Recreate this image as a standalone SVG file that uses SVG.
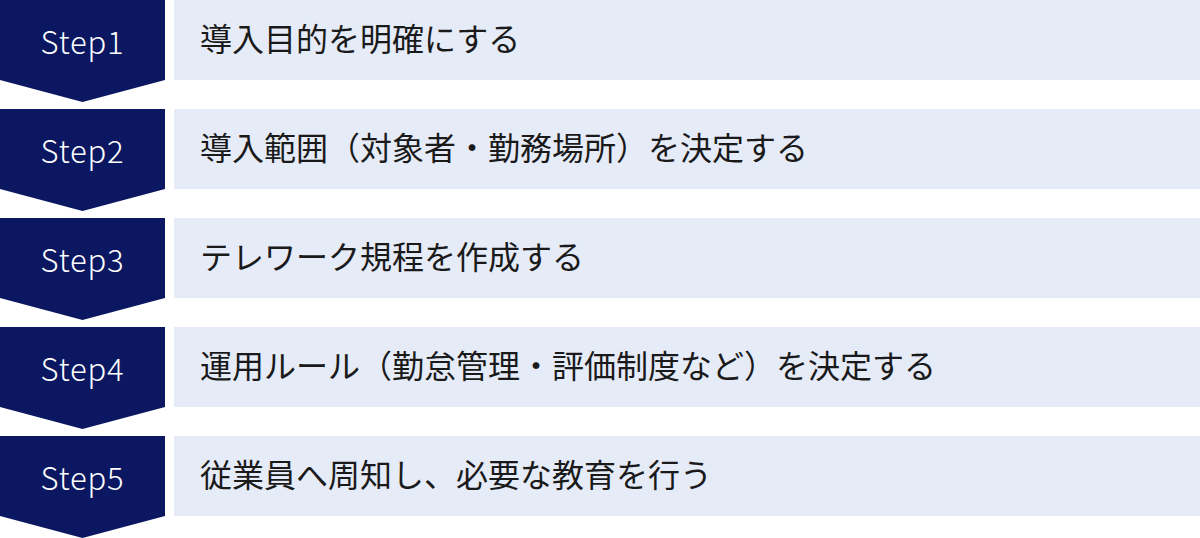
<svg xmlns="http://www.w3.org/2000/svg" width="1200" height="538" viewBox="0 0 1200 538">
<defs>
<style>
.chev{fill:#0b1861}
.box{fill:#e6ebf8}
.step{fill:#ffffff;font-family:"Noto Sans CJK JP","Noto Sans",sans-serif;font-size:31px;font-weight:300;letter-spacing:0.8px;text-anchor:middle}
.lbl{fill:#1a1a1a;font-family:"Noto Sans CJK JP","Noto Sans",sans-serif;font-size:32px}
</style>
<polygon id="chevShape" points="0,0 165,0 165,80 82.5,102 0,80"/>
</defs>
<rect width="1200" height="538" fill="#ffffff"/>
<g id="connectors"></g>
<g id="step1" transform="translate(0,0)">
<use href="#chevShape" class="chev"/>
<rect class="box" x="174" y="0" width="1026" height="80"/>
<text class="step" x="82.5" y="54">Step1</text>
<text class="lbl" x="200" y="51">導入目的を明確にする</text>
</g>
<g id="step2" transform="translate(0,109)">
<use href="#chevShape" class="chev"/>
<rect class="box" x="174" y="0" width="1026" height="80"/>
<text class="step" x="82.5" y="54">Step2</text>
<text class="lbl" x="200" y="51">導入範囲（対象者・勤務場所）を決定する</text>
</g>
<g id="step3" transform="translate(0,218)">
<use href="#chevShape" class="chev"/>
<rect class="box" x="174" y="0" width="1026" height="80"/>
<text class="step" x="82.5" y="54">Step3</text>
<text class="lbl" x="200" y="51">テレワーク規程を作成する</text>
</g>
<g id="step4" transform="translate(0,327)">
<use href="#chevShape" class="chev"/>
<rect class="box" x="174" y="0" width="1026" height="80"/>
<text class="step" x="82.5" y="54">Step4</text>
<text class="lbl" x="200" y="51">運用ルール（勤怠管理・評価制度など）を決定する</text>
</g>
<g id="step5" transform="translate(0,436)">
<use href="#chevShape" class="chev"/>
<rect class="box" x="174" y="0" width="1026" height="80"/>
<text class="step" x="82.5" y="54">Step5</text>
<text class="lbl" x="200" y="51">従業員へ周知し、必要な教育を行う</text>
</g>
</svg>
